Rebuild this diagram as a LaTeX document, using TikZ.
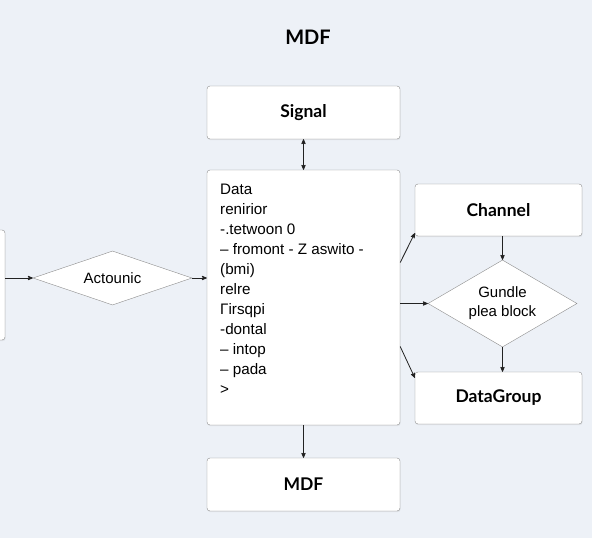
\documentclass[tikz,border=0pt]{standalone}
\usepackage{fontspec}
\setmainfont{Lato}
\newfontfamily\listfont{Liberation Sans}
\usetikzlibrary{arrows,positioning,shapes.geometric,shadows}

\definecolor{pagebg}{HTML}{EDF1F7}
\definecolor{boxline}{HTML}{8C8C8C}
\definecolor{wirecol}{HTML}{222222}

\tikzset{
  block/.style={draw=boxline, fill=white, rounded corners=3pt,
    minimum width=193pt, minimum height=53pt,
    font=\fontsize{17.5}{20}\selectfont\bfseries,
    drop shadow={opacity=0.12, shadow xshift=0.6pt, shadow yshift=-1.2pt}},
  choice/.style={diamond, draw=boxline, fill=white, inner sep=0pt,
    font=\listfont\fontsize{15}{19}\selectfont, align=center},
  wire/.style={->, draw=wirecol, line width=0.8pt}
}

\begin{document}
\begin{tikzpicture}[>=stealth', x=1pt, y=-1pt]

  \fill[pagebg] (0,0) rectangle (592,538);
  \useasboundingbox (0,0) rectangle (592,538);
  \clip (0,0) rectangle (592,538);

  \node[font=\fontsize{20}{24}\selectfont\bfseries] (title) at (308,37) {MDF};

  % middle column
  \node[block] (sig) at (303.5,112.5) {Signal};
  \node[block, minimum height=255pt] (frame) at (303.5,297.5) {};
  \node[anchor=north west, align=left, inner sep=0pt,
        font=\listfont\fontsize{15.2}{20}\selectfont] (items) at (220,184)
    {Data\\ renirior\\ -.tetwoon 0\\ – fromont - Z aswito -\\ (bmi)\\
     relre\\ Γirsqpi\\ -dontal\\ – intop\\ – pada\\ >};
  \node[block] (mdfout) at (303.5,484.5) {MDF};

  % left side
  \node[block, minimum width=110pt, minimum height=110pt] (src) at (-50,285) {};
  \node[choice, aspect=3, minimum width=159pt, minimum height=54pt] (act) at (112.5,278) {Actounic};

  % right side
  \node[block, minimum width=167pt, minimum height=52pt] (chan) at (498.5,210) {Channel};
  \node[choice, aspect=1.75, minimum width=149pt, minimum height=87pt] (gate) at (502.5,303.5) {Gundle\\ plea block};
  \node[block, minimum width=167pt, minimum height=52pt] (dg) at (498.5,398) {DataGroup};

  \draw[wire, <->] (sig) -- (frame);
  \draw[wire] (frame) -- (mdfout);
  \draw[wire] (src.east |- act.west) -- (act.west);
  \draw[wire] (act.east) -- (act.east -| frame.west);
  \draw[wire] ([yshift=35pt]frame.east) -- ([yshift=3pt]chan.south west);
  \draw[wire] (gate.west -| frame.east) -- (gate.west);
  \draw[wire] ([yshift=-49pt]frame.east) -- ([yshift=-6pt]dg.north west);
  \draw[wire] (gate.north |- chan.south) -- (gate.north);
  \draw[wire] (gate.south) -- (gate.south |- dg.north);

\end{tikzpicture}
\end{document}
